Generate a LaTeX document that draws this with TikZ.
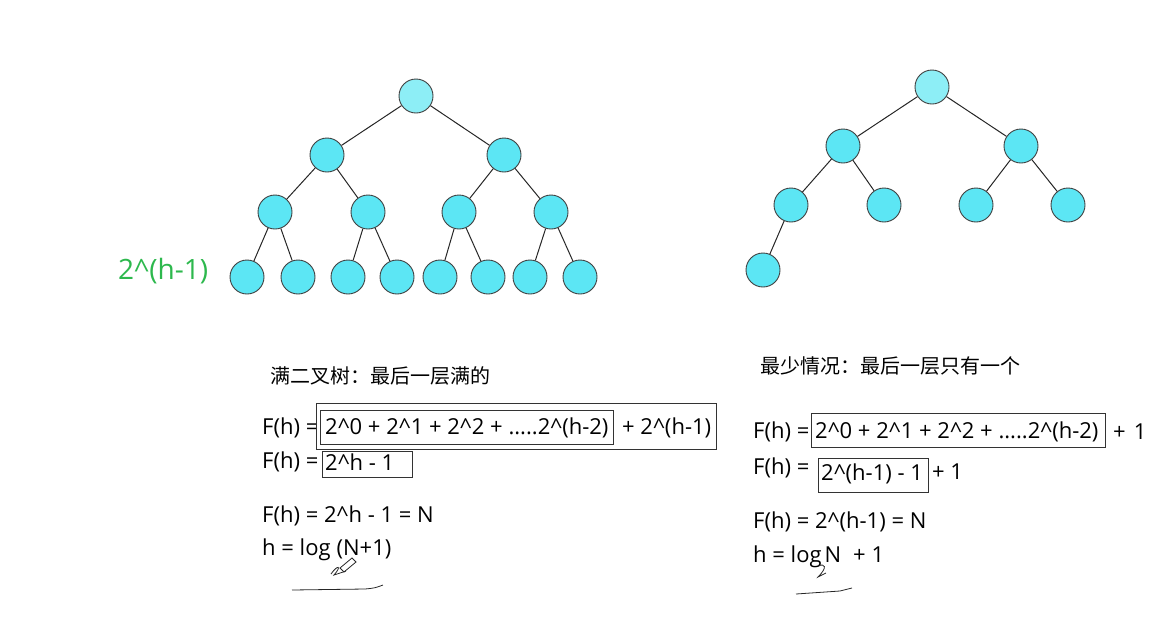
\documentclass[tikz,border=0pt]{standalone}
\usepackage{fontspec}
\setmainfont{Open Sans}
\newfontfamily\cjk{Noto Sans CJK SC}
\definecolor{nodec}{HTML}{5CE6F4}
\definecolor{rootc}{HTML}{8DEEF6}
\definecolor{gr}{HTML}{2DB84D}
\begin{document}
\begin{tikzpicture}[x=1pt,y=-1pt,
  nd/.style={circle,draw=black!75,fill=nodec,minimum size=34pt,inner sep=0pt,line width=0.9pt},
  rt/.style={nd,fill=rootc},
  ed/.style={draw=black!85,line width=1pt},
  tx/.style={anchor=west,inner sep=0pt,font=\fontsize{22}{26}\selectfont},
  ct/.style={anchor=west,inner sep=0pt,font=\cjk\fontsize{20}{24}\selectfont},
  bx/.style={draw=black!80,line width=0.8pt},
  hand/.style={draw=black!85,line width=0.8pt}]
\useasboundingbox (0,0) rectangle (1176,633);
% left tree
\node[rt] (a) at (416,96) {};
\node[nd] (b1) at (327,155) {}; \node[nd] (b2) at (504,155) {};
\node[nd] (c1) at (275,212) {}; \node[nd] (c2) at (368,212) {};
\node[nd] (c3) at (459,212) {}; \node[nd] (c4) at (551,212) {};
\foreach \i/\x in {1/247,2/298,3/348,4/397,5/440,6/488,7/530,8/580}{\node[nd] (d\i) at (\x,277) {};}
\draw[ed] (a)--(b1) (a)--(b2) (b1)--(c1) (b1)--(c2) (b2)--(c3) (b2)--(c4)
 (c1)--(d1) (c1)--(d2) (c2)--(d3) (c2)--(d4) (c3)--(d5) (c3)--(d6) (c4)--(d7) (c4)--(d8);
\node[tx,text=gr,font=\fontsize{28}{32}\selectfont] (g) at (118,271) {2\^{}(h-1)};
% right tree
\node[rt] (ra) at (932,87) {};
\node[nd] (rb1) at (843,146) {}; \node[nd] (rb2) at (1021,146) {};
\node[nd] (rc1) at (791,205) {}; \node[nd] (rc2) at (884,205) {};
\node[nd] (rc3) at (976,205) {}; \node[nd] (rc4) at (1068,205) {};
\node[nd] (rd1) at (763,270) {};
\draw[ed] (ra)--(rb1) (ra)--(rb2) (rb1)--(rc1) (rb1)--(rc2) (rb2)--(rc3) (rb2)--(rc4) (rc1)--(rd1);
% left text
\node[ct] (t1) at (270,376) {满二叉树：最后一层满的};
\node[tx] (l1a) at (262,428) {F(h) =};
\node[tx] (l1b) at (325,428) {2\^{}0 + 2\^{}1 + 2\^{}2 + .....2\^{}(h-2)};
\node[tx] (l1c) at (622,428) {+ 2\^{}(h-1)};
\draw[bx] (320,410) rectangle (613,444);
\draw[bx] (316,403) rectangle (716,449);
\node[tx] (l2a) at (262,462) {F(h) =};
\node[tx] (l2b) at (325,462) {2\^{}h - 1};
\draw[bx] (322,451) rectangle (412,477);
\node[tx] (l3) at (262,516) {F(h) = 2\^{}h - 1 = N};
\node[tx] (l4) at (262,550) {h = log\hspace{6pt}(N+1)};
\draw[hand] (331,574) .. controls (338,564) and (342,566) .. (334,575) -- (346,571);
\draw[hand] (340,568) -- (352,558) -- (356,562) -- (344,572) -- cycle;
\draw[hand] (292,590) -- (365,589) .. controls (375,588) .. (383,585);
% right text
\node[ct] (t2) at (760,366) {最少情况：最后一层只有一个};
\node[tx] (r1a) at (753,432) {F(h) =};
\node[tx] (r1b) at (815,432) {2\^{}0 + 2\^{}1 + 2\^{}2 + .....2\^{}(h-2)};
\node[tx] (r1c) at (1113,432) {+\hspace{8pt}1};
\draw[bx] (811,413) rectangle (1105,447);
\node[tx] (r2a) at (753,468) {F(h) =};
\node[tx] (r2b) at (821,474) {2\^{}(h-1) - 1};
\node[tx] (r2c) at (932,472) {+ 1};
\draw[bx] (818,458) rectangle (928,492);
\node[tx] (r3) at (753,522) {F(h) = 2\^{}(h-1) = N};
\node[tx] (r4) at (753,557) {h = log\hspace{3pt}N\hspace{12pt}+ 1};
\draw[hand] (818,566) .. controls (825,563) and (828,567) .. (818,577) -- (826,573);
\draw[hand] (796,594) -- (840,591) .. controls (846,590) .. (852,588);
\end{tikzpicture}
\end{document}
